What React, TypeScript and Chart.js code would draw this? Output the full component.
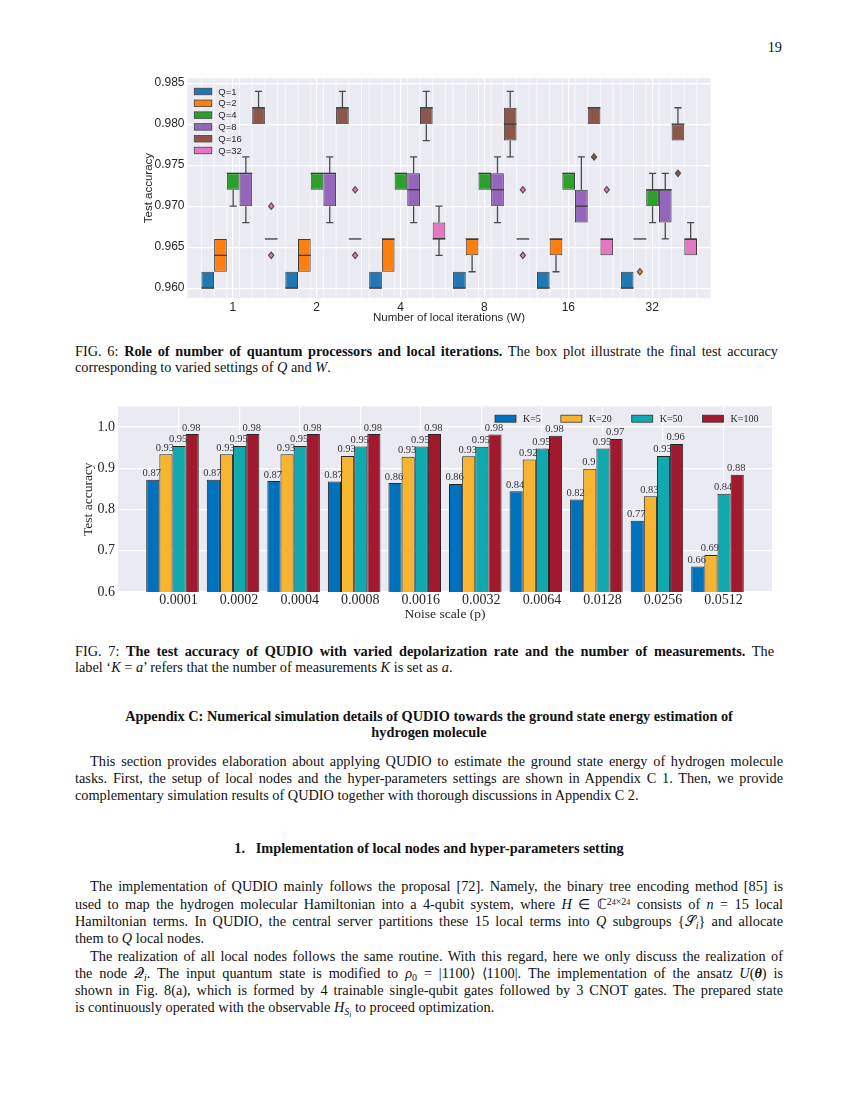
import React, { useEffect, useRef } from "react";
import { Chart, registerables } from "chart.js";

Chart.register(...registerables);

const SANS = '"Liberation Sans", Arial, Helvetica, sans-serif';
const SERIF = '"Liberation Serif", "Times New Roman", Times, serif';

/* ---------------- FIG. 6 : box plot data ---------------- */
const W_LABELS = ["1", "2", "4", "8", "16", "32"];
const Q_LABELS = ["Q=1", "Q=2", "Q=4", "Q=8", "Q=16", "Q=32"];
const Q_COLORS = ["#1f77b4", "#ff7f0e", "#2ca02c", "#9467bd", "#8c564b", "#e377c2"];
const BOX_Y_TICKS = [0.96, 0.965, 0.97, 0.975, 0.98, 0.985];

// [min, q1, median, q3, max] for W = 1, 2, 4, 8, 16, 32
const STATS_Q1 = [
  [0.96, 0.96, 0.96, 0.962, 0.962],
  [0.96, 0.96, 0.96, 0.962, 0.962],
  [0.96, 0.96, 0.96, 0.962, 0.962],
  [0.96, 0.96, 0.96, 0.962, 0.962],
  [0.96, 0.96, 0.96, 0.962, 0.962],
  [0.96, 0.96, 0.96, 0.962, 0.962],
];
const STATS_Q2 = [
  [0.962, 0.962, 0.964, 0.966, 0.966],
  [0.962, 0.962, 0.964, 0.966, 0.966],
  [0.962, 0.962, 0.966, 0.966, 0.966],
  [0.962, 0.964, 0.966, 0.966, 0.966],
  [0.962, 0.964, 0.966, 0.966, 0.966],
  [0.966, 0.966, 0.966, 0.966, 0.966],
];
const STATS_Q4 = [
  [0.97, 0.972, 0.974, 0.974, 0.974],
  [0.972, 0.972, 0.974, 0.974, 0.974],
  [0.972, 0.972, 0.974, 0.974, 0.974],
  [0.972, 0.972, 0.974, 0.974, 0.974],
  [0.972, 0.972, 0.974, 0.974, 0.974],
  [0.968, 0.97, 0.972, 0.972, 0.974],
];
const STATS_Q8 = [
  [0.968, 0.97, 0.974, 0.974, 0.976],
  [0.968, 0.97, 0.974, 0.974, 0.976],
  [0.968, 0.97, 0.972, 0.974, 0.976],
  [0.968, 0.97, 0.972, 0.974, 0.976],
  [0.968, 0.968, 0.97, 0.972, 0.976],
  [0.966, 0.968, 0.972, 0.972, 0.974],
];
const STATS_Q16 = [
  [0.98, 0.98, 0.982, 0.982, 0.984],
  [0.98, 0.98, 0.982, 0.982, 0.984],
  [0.978, 0.98, 0.982, 0.982, 0.984],
  [0.976, 0.978, 0.98, 0.982, 0.984],
  [0.98, 0.98, 0.982, 0.982, 0.982],
  [0.978, 0.978, 0.98, 0.98, 0.982],
];
const STATS_Q32 = [
  [0.966, 0.966, 0.966, 0.966, 0.966],
  [0.966, 0.966, 0.966, 0.966, 0.966],
  [0.964, 0.966, 0.966, 0.968, 0.97],
  [0.966, 0.966, 0.966, 0.966, 0.966],
  [0.964, 0.964, 0.966, 0.966, 0.966],
  [0.964, 0.964, 0.966, 0.966, 0.968],
];
const OUTLIERS_Q1 = [[], [], [], [], [], []];
const OUTLIERS_Q2 = [[], [], [], [], [], [0.962]];
const OUTLIERS_Q4 = [[], [], [], [], [], []];
const OUTLIERS_Q8 = [[], [], [], [], [], []];
const OUTLIERS_Q16 = [[], [], [], [], [0.976], [0.974]];
const OUTLIERS_Q32 = [[0.97, 0.964], [0.972, 0.964], [], [0.972, 0.964], [0.972], []];

/* ---------------- FIG. 7 : bar chart data ---------------- */
const NOISE_LABELS = ["0.0001", "0.0002", "0.0004", "0.0008", "0.0016", "0.0032", "0.0064", "0.0128", "0.0256", "0.0512"];
const K_LABELS = ["K=5", "K=20", "K=50", "K=100"];
const K_COLORS = ["#0072bd", "#f7b52f", "#10a9ad", "#a0192f"];
const ACC_K5 = [0.872, 0.872, 0.869, 0.868, 0.864, 0.862, 0.844, 0.824, 0.773, 0.662];
const ACC_K20 = [0.934, 0.934, 0.934, 0.93, 0.928, 0.929, 0.921, 0.899, 0.832, 0.69];
const ACC_K50 = [0.954, 0.954, 0.954, 0.953, 0.953, 0.952, 0.948, 0.948, 0.93, 0.838];
const ACC_K100 = [0.983, 0.983, 0.983, 0.983, 0.983, 0.982, 0.979, 0.971, 0.959, 0.884];
const BAR_Y_TICKS = [0.6, 0.7, 0.8, 0.9, 1.0];

/* ---------------- plugins ---------------- */
const bgPlugin = {
  id: "bg",
  beforeDraw(chart: any, _a: any, o: any) {
    const { ctx, chartArea: a } = chart;
    ctx.save();
    ctx.fillStyle = o.color;
    ctx.fillRect(a.left, a.top, a.right - a.left, a.bottom - a.top);
    if (o.minorX) {
      const xs = chart.scales.x;
      ctx.strokeStyle = "rgba(255,255,255,0.85)";
      ctx.lineWidth = 0.8;
      o.minorX.forEach((v: number) => {
        const px = xs.getPixelForValue(v);
        if (px <= a.left || px >= a.right) return;
        ctx.beginPath();
        ctx.moveTo(px, a.top);
        ctx.lineTo(px, a.bottom);
        ctx.stroke();
      });
    }
    ctx.restore();
  },
};

const boxPlugin = {
  id: "boxExtras",
  afterDatasetsDraw(chart: any) {
    const { ctx } = chart;
    const ys = chart.scales.y;
    const py = (v: number) => ys.getPixelForValue(v);
    chart.data.datasets.forEach((ds: any, di: number) => {
      const meta = chart.getDatasetMeta(di);
      meta.data.forEach((el: any, i: number) => {
        const [mn, q1, med, q3, mx] = ds.stats[i];
        const { x, width } = el.getProps(["x", "width"], true);
        const cap = width * 0.28;
        ctx.save();
        ctx.strokeStyle = "#4a4a4a";
        ctx.lineWidth = 1.3;
        ctx.beginPath();
        if (mx > q3) {
          ctx.moveTo(x, py(q3));
          ctx.lineTo(x, py(mx));
          ctx.moveTo(x - cap, py(mx));
          ctx.lineTo(x + cap, py(mx));
        }
        if (mn < q1) {
          ctx.moveTo(x, py(q1));
          ctx.lineTo(x, py(mn));
          ctx.moveTo(x - cap, py(mn));
          ctx.lineTo(x + cap, py(mn));
        }
        ctx.stroke();
        ctx.strokeStyle = "#3a3a3a";
        ctx.lineWidth = 1.3;
        ctx.beginPath();
        ctx.moveTo(x - width / 2, py(med));
        ctx.lineTo(x + width / 2, py(med));
        ctx.stroke();
        (ds.outliers[i] || []).forEach((v: number) => {
          const cy = py(v);
          ctx.beginPath();
          ctx.moveTo(x, cy - 3.2);
          ctx.lineTo(x + 2.6, cy);
          ctx.lineTo(x, cy + 3.2);
          ctx.lineTo(x - 2.6, cy);
          ctx.closePath();
          ctx.fillStyle = ds.backgroundColor;
          ctx.fill();
          ctx.lineWidth = 1.1;
          ctx.strokeStyle = "#4a4a4a";
          ctx.stroke();
        });
        ctx.restore();
      });
    });
  },
};

const valueLabelPlugin = {
  id: "valueLabels",
  afterDatasetsDraw(chart: any, _a: any, o: any) {
    const { ctx } = chart;
    ctx.save();
    ctx.font = o.font;
    ctx.fillStyle = o.color;
    ctx.textAlign = "center";
    ctx.textBaseline = "bottom";
    chart.data.datasets.forEach((ds: any, di: number) => {
      const meta = chart.getDatasetMeta(di);
      meta.data.forEach((el: any, i: number) => {
        const v = ds.data[i].y;
        const txt = String(Math.round(v * 100) / 100);
        ctx.fillText(txt, el.x - 1, el.y - 1);
      });
    });
    ctx.restore();
  },
};

const legendPlugin = {
  id: "innerLegend",
  afterDraw(chart: any, _a: any, o: any) {
    const { ctx, chartArea: a } = chart;
    ctx.save();
    ctx.font = o.font;
    ctx.textBaseline = "middle";
    ctx.textAlign = "left";
    let x = a.left + o.x;
    let y = a.top + o.y;
    chart.data.datasets.forEach((ds: any) => {
      ctx.fillStyle = ds.backgroundColor;
      ctx.fillRect(x, y - o.h / 2, o.w, o.h);
      ctx.strokeStyle = o.edge;
      ctx.lineWidth = 0.8;
      ctx.strokeRect(x, y - o.h / 2, o.w, o.h);
      ctx.fillStyle = o.color;
      ctx.fillText(ds.label, x + o.w + o.pad, y + 0.5);
      if (o.horizontal) {
        x += o.w + o.pad + ctx.measureText(ds.label).width + o.gap;
      } else {
        y += o.rowH;
      }
    });
    ctx.restore();
  },
};

/* ---------------- FIG. 6 chart ---------------- */
const BOX_SHIFT = 0.08;
const BOX_CAT = 0.908;

function BoxChart() {
  const ref = useRef<HTMLCanvasElement>(null);
  useEffect(() => {
    const stats = [STATS_Q1, STATS_Q2, STATS_Q4, STATS_Q8, STATS_Q16, STATS_Q32];
    const outs = [OUTLIERS_Q1, OUTLIERS_Q2, OUTLIERS_Q4, OUTLIERS_Q8, OUTLIERS_Q16, OUTLIERS_Q32];
    const minor = W_LABELS.flatMap((_, i) =>
      Array.from({ length: 7 }, (_u, k) => i + BOX_SHIFT + ((k - 3) * BOX_CAT) / 6)
    );
    const tickFont = { family: SANS, size: 12 };
    const titleFont = { family: SANS, size: 11.5 };
    const chart = new Chart(ref.current as HTMLCanvasElement, {
      type: "bar",
      data: {
        datasets: Q_LABELS.map((name, qi) => ({
          label: name,
          data: stats[qi].map((s, wi) => ({ x: wi + BOX_SHIFT, y: [s[1], s[3]] })),
          stats: stats[qi],
          outliers: outs[qi],
          backgroundColor: Q_COLORS[qi],
          borderColor: "#3d3d3d",
          borderWidth: 1,
          borderSkipped: false,
          categoryPercentage: BOX_CAT,
          barPercentage: 1,
        })) as any,
      },
      options: {
        animation: false,
        responsive: false,
        maintainAspectRatio: false,
        events: [],
        layout: { padding: { left: 0, right: 19.5, top: 10, bottom: 0 } },
        plugins: {
          legend: { display: false },
          tooltip: { enabled: false },
          bg: { color: "#eaeaf2", minorX: minor },
          innerLegend: {
            x: 6.8, y: 13.3, rowH: 11.8, w: 17.5, h: 6.5, pad: 6.5,
            font: `9.5px ${SANS}`, color: "#262626", edge: "#444", horizontal: false,
          },
        } as any,
        scales: {
          x: {
            type: "linear",
            offset: false,
            min: -0.54,
            max: 5.695,
            afterBuildTicks: (ax: any) => {
              ax.ticks = W_LABELS.map((_, i) => ({ value: i }));
            },
            afterFit: (s: any) => {
              s.height = 32;
            },
            ticks: {
              callback: (v: any) => W_LABELS[Math.round(v)] ?? "",
              font: tickFont,
              color: "#262626",
              padding: 2,
              autoSkip: false,
              maxRotation: 0,
            },
            grid: { color: "#ffffff", lineWidth: 1.2, drawTicks: false, offset: false },
            border: { display: false },
            title: {
              display: true,
              text: "Number of local iterations (W)",
              font: titleFont,
              color: "#262626",
              padding: { top: 0, bottom: 5 },
            },
          },
          y: {
            type: "linear",
            min: 0.9588,
            max: 0.9856,
            afterBuildTicks: (ax: any) => {
              ax.ticks = BOX_Y_TICKS.map((v) => ({ value: v }));
            },
            afterFit: (s: any) => {
              s.width = 57.5;
            },
            ticks: {
              callback: (v: any) => Number(v).toFixed(3),
              font: tickFont,
              color: "#262626",
              padding: 3,
            },
            grid: { color: "#ffffff", lineWidth: 1.2, drawTicks: false },
            border: { display: false },
            title: {
              display: true,
              text: "Test accuracy",
              font: titleFont,
              color: "#262626",
              padding: { top: 11.6, bottom: 0 },
            },
          },
        } as any,
      },
      plugins: [bgPlugin, boxPlugin, legendPlugin],
    } as any);
    return () => chart.destroy();
  }, []);
  return (
    <canvas
      ref={ref}
      width={600}
      height={262}
      style={{ position: "absolute", left: 130, top: 68, width: 600, height: 262 }}
    />
  );
}

/* ---------------- FIG. 7 chart ---------------- */
const BAR_SHIFT = -0.1;

function BarChart() {
  const ref = useRef<HTMLCanvasElement>(null);
  useEffect(() => {
    const series = [ACC_K5, ACC_K20, ACC_K50, ACC_K100];
    const tickFont = { family: SERIF, size: 14 };
    const titleFont = { family: SERIF, size: 13.5 };
    const chart = new Chart(ref.current as HTMLCanvasElement, {
      type: "bar",
      data: {
        datasets: K_LABELS.map((name, ki) => ({
          label: name,
          data: series[ki].map((v, i) => ({ x: i + BAR_SHIFT, y: v })),
          backgroundColor: K_COLORS[ki],
          borderColor: "#262626",
          borderWidth: 1,
          borderSkipped: false,
          categoryPercentage: 0.868,
          barPercentage: 1,
        })) as any,
      },
      options: {
        animation: false,
        responsive: false,
        maintainAspectRatio: false,
        events: [],
        layout: { padding: { left: 0, right: 18, top: 6, bottom: 0 } },
        plugins: {
          legend: { display: false },
          tooltip: { enabled: false },
          bg: { color: "#eaeaf2" },
          valueLabels: { font: `10.5px ${SERIF}`, color: "#333333" },
          innerLegend: {
            x: 377, y: 12.3, w: 21, h: 7, pad: 7, gap: 20,
            font: `10px ${SERIF}`, color: "#262626", edge: "#333", horizontal: true,
          },
        } as any,
        scales: {
          x: {
            type: "linear",
            offset: false,
            min: -1.0,
            max: 9.8,
            afterBuildTicks: (ax: any) => {
              ax.ticks = NOISE_LABELS.map((_, i) => ({ value: i }));
            },
            afterFit: (s: any) => {
              s.height = 33;
            },
            ticks: {
              callback: (v: any) => NOISE_LABELS[Math.round(v)] ?? "",
              font: tickFont,
              color: "#262626",
              padding: 0,
              autoSkip: false,
              maxRotation: 0,
            },
            grid: { color: "#ffffff", lineWidth: 1.2, drawTicks: false, offset: false },
            border: { display: false },
            title: {
              display: true,
              text: "Noise scale (p)",
              font: titleFont,
              color: "#262626",
              padding: { top: 0, bottom: 2.9 },
            },
          },
          y: {
            type: "linear",
            min: 0.6,
            max: 1.05,
            afterBuildTicks: (ax: any) => {
              ax.ticks = BAR_Y_TICKS.map((v) => ({ value: v }));
            },
            afterFit: (s: any) => {
              s.width = 48;
            },
            ticks: {
              callback: (v: any) => Number(v).toFixed(1),
              font: tickFont,
              color: "#262626",
              padding: 3,
            },
            grid: { color: "#ffffff", lineWidth: 1.2, drawTicks: false },
            border: { display: false },
            title: {
              display: true,
              text: "Test accuracy",
              font: titleFont,
              color: "#262626",
              padding: { top: 9.9, bottom: 0 },
            },
          },
        } as any,
      },
      plugins: [bgPlugin, valueLabelPlugin, legendPlugin],
    } as any);
    return () => chart.destroy();
  }, []);
  return (
    <canvas
      ref={ref}
      width={720}
      height={230}
      style={{ position: "absolute", left: 70, top: 395, width: 720, height: 230 }}
    />
  );
}

/* ---------------- text helpers ---------------- */
type Mode = "justify" | "left" | "center";
function TLine(props: { y: number; x?: number; w?: number; mode?: Mode; children: any }) {
  const { y, x = 75, w = 708, mode = "justify", children } = props;
  return (
    <div
      style={{
        position: "absolute",
        left: x,
        top: y - 9,
        width: w,
        height: 18,
        lineHeight: "18px",
        fontSize: 14.3,
        fontFamily: SERIF,
        color: "#111",
        textAlign: mode === "center" ? "center" : mode === "justify" ? "justify" : "left",
        textAlignLast: mode === "center" ? "center" : mode === "justify" ? "justify" : "left",
      } as any}
    >
      {children}
    </div>
  );
}

const supStyle: any = { fontSize: "0.7em", verticalAlign: "0.45em", lineHeight: 0 };
const subStyle: any = { fontSize: "0.7em", verticalAlign: "-0.25em", lineHeight: 0 };

export default function App() {
  return (
    <div
      style={{
        position: "absolute",
        left: 0,
        top: 0,
        width: 850,
        height: 1100,
        background: "#ffffff",
        overflow: "hidden",
      }}
    >
      <div
        style={{
          position: "absolute",
          left: 740,
          top: 38,
          width: 42,
          textAlign: "right",
          fontFamily: SERIF,
          fontSize: 14.3,
          lineHeight: "18px",
          color: "#111",
        }}
      >
        19
      </div>

      <BoxChart />

      <TLine y={351} w={703}>
        FIG. 6: <b>Role of number of quantum processors and local iterations.</b> The box plot illustrate the final test accuracy
      </TLine>
      <TLine y={367} mode="left">
        corresponding to varied settings of <i>Q</i> and <i>W</i>.
      </TLine>

      <BarChart />

      <TLine y={651} w={699}>
        FIG. 7: <b>The test accuracy of QUDIO with varied depolarization rate and the number of measurements.</b> The
      </TLine>
      <TLine y={667} mode="left">
        label ‘<i>K</i> = <i>a</i>’ refers that the number of measurements <i>K</i> is set as <i>a</i>.
      </TLine>

      <TLine y={716} mode="center">
        <b>Appendix C: Numerical simulation details of QUDIO towards the ground state energy estimation of</b>
      </TLine>
      <TLine y={732} mode="center">
        <b>hydrogen molecule</b>
      </TLine>

      <TLine y={761} x={90} w={693}>
        This section provides elaboration about applying QUDIO to estimate the ground state energy of hydrogen molecule
      </TLine>
      <TLine y={778}>
        tasks. First, the setup of local nodes and the hyper-parameters settings are shown in Appendix C 1. Then, we provide
      </TLine>
      <TLine y={795} mode="left">
        complementary simulation results of QUDIO together with thorough discussions in Appendix C 2.
      </TLine>

      <TLine y={848} mode="center">
        <b>1.&nbsp;&nbsp; Implementation of local nodes and hyper-parameters setting</b>
      </TLine>

      <TLine y={886} x={90} w={693}>
        The implementation of QUDIO mainly follows the proposal [72]. Namely, the binary tree encoding method [85] is
      </TLine>
      <TLine y={904}>
        used to map the hydrogen molecular Hamiltonian into a 4-qubit system, where <i>H</i> ∈ ℂ
        <span style={supStyle}>
          2<span style={{ fontSize: "0.8em" }}>4</span>×2<span style={{ fontSize: "0.8em" }}>4</span>
        </span>{" "}
        consists of <i>n</i> = 15 local
      </TLine>
      <TLine y={921}>
        Hamiltonian terms. In QUDIO, the central server partitions these 15 local terms into <i>Q</i> subgroups {"{"}𝒮
        <span style={subStyle}>
          <i>i</i>
        </span>
        {"}"} and allocate
      </TLine>
      <TLine y={938} mode="left">
        them to <i>Q</i> local nodes.
      </TLine>

      <TLine y={956} x={90} w={693}>
        The realization of all local nodes follows the same routine. With this regard, here we only discuss the realization of
      </TLine>
      <TLine y={973}>
        the node 𝒬
        <span style={subStyle}>
          <i>i</i>
        </span>
        . The input quantum state is modified to <i>ρ</i>
        <span style={subStyle}>0</span> = |1100⟩ ⟨1100|. The implementation of the ansatz <i>U</i>(<b><i>θ</i></b>) is
      </TLine>
      <TLine y={990}>
        shown in Fig. 8(a), which is formed by 4 trainable single-qubit gates followed by 3 CNOT gates. The prepared state
      </TLine>
      <TLine y={1007} mode="left">
        is continuously operated with the observable <i>H</i>
        <span style={subStyle}>
          <i>S</i>
          <span style={{ fontSize: "0.75em", verticalAlign: "-0.2em" }}>
            <i>i</i>
          </span>
        </span>{" "}
        to proceed optimization.
      </TLine>
    </div>
  );
}
